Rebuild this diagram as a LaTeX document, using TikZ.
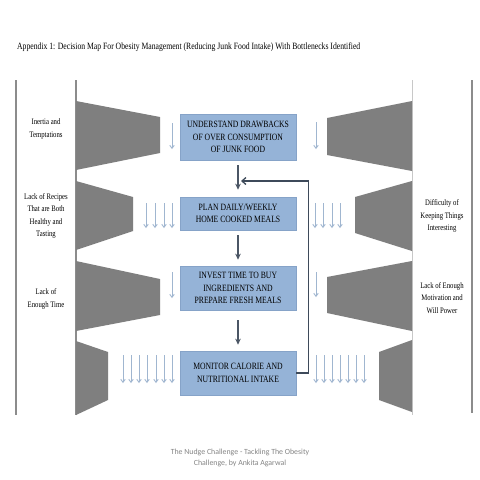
\documentclass[tikz,border=0pt]{standalone}
\usepackage{fontspec}
\setmainfont{Liberation Serif}[FakeStretch=0.8]
\newfontfamily\footfont{Carlito}
\usepackage{xcolor}
\usetikzlibrary{arrows.meta}
\definecolor{neck}{HTML}{7F7F7F}
\definecolor{wallc}{HTML}{8C8C8C}
\definecolor{wallin}{HTML}{C8C8C8}
\definecolor{boxfill}{HTML}{95B3D7}
\definecolor{boxline}{HTML}{86A3C8}
\definecolor{dripc}{HTML}{A0B6D0}
\definecolor{flowc}{HTML}{4B5665}
\definecolor{loopc}{HTML}{3E4A5A}
\definecolor{foot}{HTML}{858585}
\tikzset{
  neckfill/.style={fill=neck, draw=none},
  wall/.style={draw=wallc, line width=1.4pt},
  wallthin/.style={draw=wallin, line width=0.9pt},
  stepbox/.style={draw=boxline, fill=boxfill, line width=0.6pt, minimum width=116pt,
    inner sep=0pt, align=center, font=\fontsize{9.6}{12.5}\selectfont},
  flowarr/.style={draw=flowc, line width=1.5pt, -{Stealth[length=6pt,width=5.5pt]}},
  loopline/.style={draw=loopc, line width=1.3pt, -{Straight Barb[length=4pt,width=7pt]}},
  drip/.style={draw=dripc, line width=0.9pt, -{Straight Barb[length=3pt,width=4.5pt]}},
  lbl/.style={align=center, font=\fontsize{8.4}{12.5}\selectfont},
  ttl/.style={anchor=west, inner sep=0pt, font=\fontsize{9.6}{10}\selectfont},
  ftr/.style={align=center, text=foot, font=\footfont\fontsize{7.85}{10.6}\selectfont}
}
\begin{document}
\begin{tikzpicture}[x=1pt,y=-1pt]
\useasboundingbox (0,0) rectangle (480,480);
\fill[white] (0,0) rectangle (480,480);

\node[ttl] (title) at (17,47) {Appendix 1: Decision Map For Obesity Management (Reducing Junk Food Intake) With Bottlenecks Identified};

% side walls
\draw[wall] (16,80) -- (16,415);
\draw[wall] (76,80) -- (76,415);
\draw[wallthin] (412,80) -- (412,415);
\draw[wall] (472,80) -- (472,413);

% bottlenecks, left
\fill[neckfill] (76,101) -- (160,117) -- (160,153) -- (76,170) -- cycle;
\fill[neckfill] (76,181) -- (133,197) -- (133,231) -- (76,250) -- cycle;
\fill[neckfill] (76,261) -- (160,279) -- (160,315) -- (76,331) -- cycle;
\fill[neckfill] (76,341) -- (108,352) -- (108,400) -- (76,415) -- cycle;

% bottlenecks, right
\fill[neckfill] (412,101) -- (327,118) -- (327,155) -- (412,171) -- cycle;
\fill[neckfill] (412,181) -- (355,197) -- (355,233) -- (412,251) -- cycle;
\fill[neckfill] (412,261) -- (327,277) -- (327,313) -- (412,331) -- cycle;
\fill[neckfill] (412,340) -- (379,352) -- (379,400) -- (412,412) -- cycle;

% steps
\node[stepbox, minimum height=46pt] (s1) at (238,137) {UNDERSTAND DRAWBACKS\\OF OVER CONSUMPTION\\OF JUNK FOOD};
\node[stepbox, minimum height=33pt] (s2) at (238,213.5) {PLAN DAILY/WEEKLY\\HOME COOKED MEALS};
\node[stepbox, minimum height=44pt] (s3) at (238,288) {INVEST TIME TO BUY\\INGREDIENTS AND\\PREPARE FRESH MEALS};
\node[stepbox, minimum height=44pt] (s4) at (238,373) {MONITOR CALORIE AND\\NUTRITIONAL INTAKE};

\draw[flowarr, shorten <=5pt, shorten >=7pt] (s1) -- (s2);
\draw[flowarr, shorten <=5pt, shorten >=6pt] (s2) -- (s3);
\draw[flowarr, shorten <=10pt, shorten >=6pt] (s3) -- (s4);

\coordinate (back) at (241,181);
\draw[loopline] (s4.east) -- ++(12,0) |- (back);

% drips
\draw[drip] (172,123) -- (172,149);
\draw[drip] (316,122) -- (316,149);
\foreach \x in {146,155,164,172} \draw[drip] (\x,203) -- (\x,228);
\foreach \x in {315,323,332,340} \draw[drip] (\x,203) -- (\x,228);
\draw[drip] (172,272) -- (172,298);
\draw[drip] (316,272) -- (316,297);
\foreach \x in {123,131,139,147,156,164,172} \draw[drip] (\x,355) -- (\x,383);
\foreach \x in {316,324,332,340,348,356,364} \draw[drip] (\x,355) -- (\x,383);

% labels
\node[lbl] (l1) at (46,129) {Inertia and\\Temptations};
\node[lbl] (l2) at (46,216) {Lack of Recipes\\That are Both\\Healthy and\\Tasting};
\node[lbl] (l3) at (46,299) {Lack of\\Enough Time};
\node[lbl] (r2) at (442,216) {Difficulty of\\Keeping Things\\Interesting};
\node[lbl] (r3) at (442,298) {Lack of Enough\\Motivation and\\Will Power};

\node[ftr] (foot) at (240,458) {The Nudge Challenge - Tackling The Obesity\\Challenge, by Ankita Agarwal};
\end{tikzpicture}
\end{document}
